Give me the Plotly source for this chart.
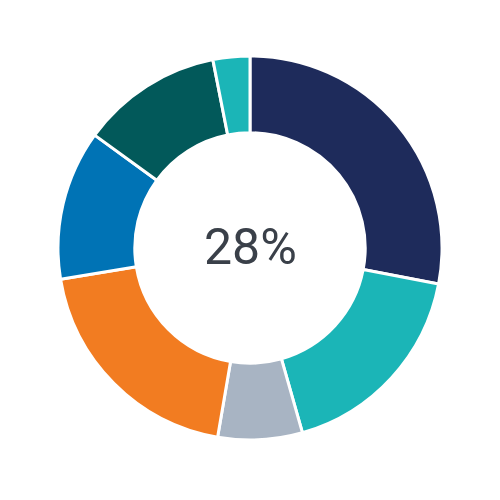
import plotly.graph_objects as go

labels = ["A", "B", "C", "D", "E", "F", "G"]
values = [28, 17.6, 7.1, 19.7, 12.6, 11.9, 3.1]
colors = ["#1e2b5b", "#1bb5b7", "#a8b4c3", "#f27c21", "#0073b5", "#02595a", "#1bb5b7"]
center_text = "28%"

fig = go.Figure(go.Pie(
    labels=labels,
    values=values,
    hole=0.6,
    sort=False,
    direction="clockwise",
    rotation=0,
    marker=dict(colors=colors, line=dict(color="white", width=3)),
    textinfo="none",
    hoverinfo="label+value",
    domain=dict(x=[0.1, 0.868], y=[0.136, 0.904]),
))
fig.add_annotation(text=center_text, x=0.484, y=0.522, xref="paper", yref="paper",
                   showarrow=False, font=dict(size=50, color="#3a4049", family="Roboto"))
fig.update_layout(width=500, height=500, margin=dict(l=0, r=0, t=0, b=0),
                  showlegend=False, paper_bgcolor="white", plot_bgcolor="white")
fig.write_html("out.html")
